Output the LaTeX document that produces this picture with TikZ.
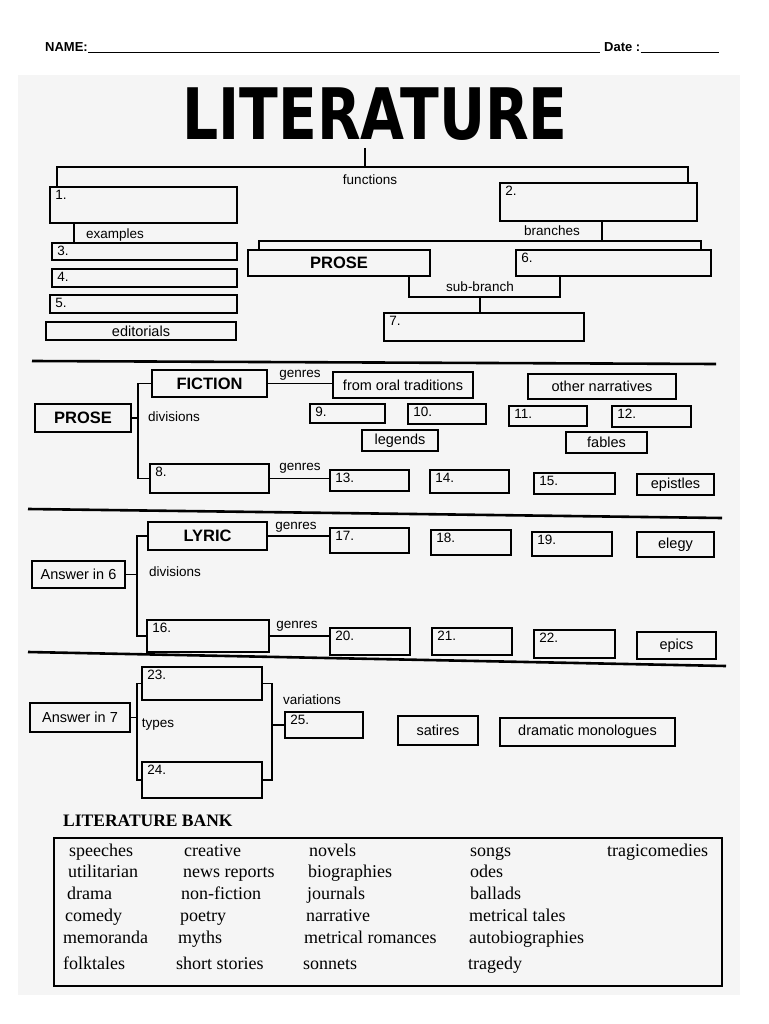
\documentclass[tikz,border=0pt]{standalone}
\usepackage{fontspec}
\setmainfont{Liberation Serif}
\setsansfont{Liberation Sans}
\newfontfamily\titlefont{DejaVu Sans}
\newcommand\bx[7][]{\node[box,#1,minimum width={#5-#3},minimum height={#6-#4}] (#2) at ({(#3+#5)/2},{(#4+#6)/2}) {#7};}
\newcommand\nb[6]{\node[box,minimum width={#4-#2},minimum height={#5-#3},label={[num,anchor=north west,inner sep=0pt,xshift=6pt,yshift=-4pt]north west:#6}] (#1) at ({(#2+#4)/2},{(#3+#5)/2}) {};}
\begin{document}
\begin{tikzpicture}[x=1pt,y=-1pt,
  box/.style={draw,line width=1.7pt,inner sep=0pt,font=\sffamily\fontsize{14.5}{16}\selectfont},
  bold/.style={font=\sffamily\bfseries\fontsize{16.5}{18}\selectfont},
  num/.style={font=\sffamily\fontsize{13.5}{15}\selectfont},
  lbl/.style={font=\sffamily\fontsize{13.5}{15}\selectfont,inner sep=0pt},
  conn/.style={line width=1.7pt},
  sepline/.style={line width=2.6pt},
  word/.style={font=\fontsize{18}{20}\selectfont,anchor=base west,inner sep=0pt}]
\useasboundingbox (0,0) rectangle (768,1024);
\fill[black!4] (18,75) rectangle (740,995);
% header
\node[font=\sffamily\bfseries\fontsize{13}{15}\selectfont,anchor=base west,inner sep=0pt] (nm) at (45,52) {NAME:};
\draw[line width=1pt] ([yshift=-1pt]nm.base east) -- ++(512,0);
\node[font=\sffamily\bfseries\fontsize{13}{15}\selectfont,anchor=base west,inner sep=0pt] (dt) at (604,52) {Date :};
\draw[line width=1pt] ([yshift=-1pt]dt.base east) -- ++(78,0);
% title
\node[font=\titlefont\bfseries\fontsize{71}{71}\selectfont,xscale=0.8,inner xsep=0pt,inner ysep=0pt,anchor=base] (title) at (375,140) {LITERATURE};
% top section
\nb{b1}{50}{187}{237}{223}{1.}
\nb{b2}{500}{183}{697}{221}{2.}
\nb{b3}{52}{243}{237}{260}{3.}
\nb{b4}{52}{269}{237}{287}{4.}
\nb{b5}{50}{295}{237}{313}{5.}
\bx{ed}{46}{322}{236}{340}{editorials}
\bx[bold]{pr1}{248}{250}{430}{276}{PROSE}
\nb{b6}{516}{250}{711}{276}{6.}
\nb{b7}{384}{313}{584}{341}{7.}
\coordinate (fj) at (365,167);
\coordinate (fk) at (365,148);
\draw[conn] (fk) -- (fj);
\coordinate (fl) at ([xshift=8pt]b1.north west);
\coordinate (fr) at ([xshift=-10pt]b2.north east);
\draw[conn] (fl) |- (fj) -| (fr);
\node[lbl] at (370,180) {functions};
\coordinate (ex) at ([xshift=25pt]b1.south west);
\draw[conn] (ex) -- (ex |- b3.north);
\node[lbl] at (115,235) {examples};
\coordinate (bj) at (602,241);
\draw[conn] (b2.south -| bj) -- (bj);
\coordinate (bl) at ([xshift=12pt]pr1.north west);
\coordinate (br) at ([xshift=-11pt]b6.north east);
\draw[conn] (bl) |- (bj) -| (br);
\node[lbl] at (552,231) {branches};
\coordinate (sl) at ([xshift=-22pt]pr1.south east);
\coordinate (sr) at ([xshift=45pt]b6.south west);
\coordinate (sj) at (480,297);
\draw[conn] (sl) |- (sj) -| (sr);
\draw[conn] (sj) -- (sj |- b7.north);
\node[lbl] at (480,287) {sub-branch};
\draw[sepline] (32,361) -- (716,364);
% prose section
\bx[bold]{pr2}{35}{404}{131}{432}{PROSE}
\bx[bold]{fic}{152}{370}{267}{397}{FICTION}
\nb{b8}{150}{464}{269}{493}{8.}
\coordinate (dj) at (138,418);
\draw[conn] (pr2.east) -- (dj);
\draw[conn] (fic.west) -| (dj) |- (b8.west);
\node[lbl] at (174,417) {divisions};
\bx{oral}{333}{372}{473}{398}{from oral traditions}
\bx{oth}{528}{374}{676}{399}{other narratives}
\draw[conn] (fic.east) -- (fic.east -| oral.west);
\node[lbl] at (300,375) {genres};
\nb{b9}{310}{404}{385}{423}{9.}
\nb{b10}{408}{404}{486}{424}{10.}
\nb{b11}{509}{406}{587}{426}{11.}
\nb{b12}{612}{406}{691}{427}{12.}
\bx{leg}{362}{430}{438}{451}{legends}
\bx{fab}{566}{432}{647}{453}{fables}
\nb{b13}{330}{470}{409}{491}{13.}
\nb{b14}{430}{470}{509}{493}{14.}
\nb{b15}{534}{473}{615}{494}{15.}
\bx{epi}{637}{474}{714}{495}{epistles}
\draw[conn] (b8.east) -- (b8.east -| b13.west);
\node[lbl] at (300,468) {genres};
\draw[sepline] (28,509) -- (722,518);
% lyric section
\bx{a6}{32}{561}{125}{588}{Answer in 6}
\bx[bold]{lyr}{148}{522}{267}{550}{LYRIC}
\nb{b16}{147}{620}{269}{652}{16.}
\coordinate (dj2) at (137,574.5);
\draw[conn] (a6.east) -- (dj2);
\draw[conn] (lyr.west) -| (dj2) |- (b16.west);
\node[lbl] at (175,572) {divisions};
\nb{b17}{330}{528}{409}{553}{17.}
\nb{b18}{431}{530}{511}{555}{18.}
\nb{b19}{532}{532}{612}{556}{19.}
\bx{ele}{637}{532}{714}{557}{elegy}
\draw[conn] (lyr.east) -- (lyr.east -| b17.west);
\node[lbl] at (296,527) {genres};
\nb{b20}{330}{628}{410}{655}{20.}
\nb{b21}{432}{628}{512}{655}{21.}
\nb{b22}{534}{630}{615}{658}{22.}
\bx{epc}{637}{632}{716}{659}{epics}
\draw[conn] (b16.east) -- (b16.east -| b20.west);
\node[lbl] at (297,626) {genres};
\draw[sepline] (28,652) -- (726,666);
% drama section
\bx{a7}{30}{703}{130}{732}{Answer in 7}
\nb{b23}{142}{667}{262}{700}{23.}
\nb{b24}{142}{762}{262}{798}{24.}
\coordinate (tj) at (137,717.5);
\draw[conn] (a7.east) -- (tj);
\draw[conn] (b23.west) -| (tj) |- (b24.west);
\node[lbl] at (158,725) {types};
\nb{b25}{285}{712}{363}{738}{25.}
\coordinate (vj) at (272,725);
\draw[conn] (b23.east) -| (vj) |- (b24.east);
\draw[conn] (vj) -- (b25.west);
\node[lbl] at (312,700) {variations};
\bx{sat}{398}{716}{478}{745}{satires}
\bx{dm}{500}{718}{675}{746}{dramatic monologues}
% bank
\node[font=\bfseries\fontsize{17.5}{20}\selectfont,anchor=base west,inner sep=0pt] (bh) at (63,826) {LITERATURE BANK};
\node[draw,line width=1.7pt,minimum width=668,minimum height=148,inner sep=0pt] (bank) at (388,912) {};
\node[word] at (69,856) {speeches};
\node[word] at (184,856) {creative};
\node[word] at (309,856) {novels};
\node[word] at (470,856) {songs};
\node[word] at (607,856) {tragicomedies};
\node[word] at (68,877) {utilitarian};
\node[word] at (183,877) {news reports};
\node[word] at (308,877) {biographies};
\node[word] at (470,877) {odes};
\node[word] at (67,899) {drama};
\node[word] at (181,899) {non-fiction};
\node[word] at (307,899) {journals};
\node[word] at (470,899) {ballads};
\node[word] at (65,921) {comedy};
\node[word] at (180,921) {poetry};
\node[word] at (306,921) {narrative};
\node[word] at (469,921) {metrical tales};
\node[word] at (63,943) {memoranda};
\node[word] at (178,943) {myths};
\node[word] at (304,943) {metrical romances};
\node[word] at (469,943) {autobiographies};
\node[word] at (63,969) {folktales};
\node[word] at (176,969) {short stories};
\node[word] at (303,969) {sonnets};
\node[word] at (468,969) {tragedy};
\end{tikzpicture}
\end{document}
